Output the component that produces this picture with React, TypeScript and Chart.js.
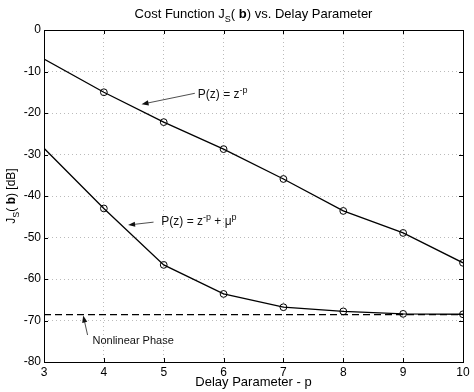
import { useEffect, useRef } from "react";
import { Chart, registerables } from "chart.js";
Chart.register(...registerables);

const delays = [3, 4, 5, 6, 7, 8, 9, 10];
const pureDelayDb = [-7, -15, -22.2, -28.7, -35.9, -43.6, -48.9, -56.1];
const delayPlusMuDb = [-28.5, -43, -56.6, -63.6, -66.8, -67.8, -68.4, -68.5];
const nonlinearPhaseDb = -68.6;
const markerRadii = [0, 3.4, 3.4, 3.4, 3.4, 3.4, 3.4, 3.4];
const xTickValues = [3, 4, 5, 6, 7, 8, 9, 10];
const yTickValues = [0, -10, -20, -30, -40, -50, -60, -70, -80];

const FAM = "'Liberation Sans', Arial, Helvetica, sans-serif";

type Seg = { t: string; b?: boolean; sub?: boolean; sup?: boolean };

const titleSegs: Seg[] = [
  { t: "Cost Function J" },
  { t: "S", sub: true },
  { t: "( " },
  { t: "b", b: true },
  { t: ") vs. Delay Parameter" },
];
const yLabelSegs: Seg[] = [
  { t: "J" },
  { t: "S", sub: true },
  { t: "( " },
  { t: "b", b: true },
  { t: ") [dB]" },
];
const xLabelSegs: Seg[] = [{ t: "Delay Parameter - p" }];
const ann1Segs: Seg[] = [{ t: "P(z) = z" }, { t: "-p", sup: true }];
const ann2Segs: Seg[] = [
  { t: "P(z) = z" },
  { t: "-p", sup: true },
  { t: " + \u03bc" },
  { t: "p", sup: true },
];
const ann3Segs: Seg[] = [{ t: "Nonlinear Phase" }];

// annotation anchors (data coordinates)
const annotations = [
  { segs: ann1Segs, x: 5.57, y: -16.3, size: 12, tail: [5.52, -15.25], head: [4.63, -17.9] },
  { segs: ann2Segs, x: 4.96, y: -47.0, size: 12, tail: [4.83, -46.3], head: [4.405, -47.0] },
  { segs: ann3Segs, x: 3.81, y: -75.7, size: 11, tail: [3.728, -73.5], head: [3.655, -68.8] },
];

function segFont(s: Seg, size: number) {
  const sz = s.sub || s.sup ? Math.round(size * 0.72) : size;
  return `${s.b ? "bold " : ""}${sz}px ${FAM}`;
}

function drawRich(
  ctx: CanvasRenderingContext2D,
  segs: Seg[],
  x: number,
  y: number,
  size: number,
  align: "left" | "center"
) {
  ctx.save();
  ctx.textBaseline = "alphabetic";
  ctx.textAlign = "left";
  let total = 0;
  const widths = segs.map((s) => {
    ctx.font = segFont(s, size);
    const w = ctx.measureText(s.t).width;
    total += w;
    return w;
  });
  let cx = align === "center" ? x - total / 2 : x;
  segs.forEach((s, i) => {
    ctx.font = segFont(s, size);
    let dy = 0;
    if (s.sub) dy = size * 0.3;
    if (s.sup) dy = -size * 0.4;
    ctx.fillText(s.t, cx, y + dy);
    cx += widths[i];
  });
  ctx.restore();
}

function drawArrow(ctx: CanvasRenderingContext2D, x1: number, y1: number, x2: number, y2: number) {
  const ang = Math.atan2(y2 - y1, x2 - x1);
  const len = 7;
  const wid = 2.6;
  ctx.save();
  ctx.strokeStyle = "#222";
  ctx.fillStyle = "#111";
  ctx.lineWidth = 0.8;
  ctx.beginPath();
  ctx.moveTo(x1, y1);
  ctx.lineTo(x2 - Math.cos(ang) * len * 0.8, y2 - Math.sin(ang) * len * 0.8);
  ctx.stroke();
  ctx.beginPath();
  ctx.moveTo(x2, y2);
  ctx.lineTo(
    x2 - Math.cos(ang) * len - Math.sin(ang) * wid,
    y2 - Math.sin(ang) * len + Math.cos(ang) * wid
  );
  ctx.lineTo(
    x2 - Math.cos(ang) * len + Math.sin(ang) * wid,
    y2 - Math.sin(ang) * len - Math.cos(ang) * wid
  );
  ctx.closePath();
  ctx.fill();
  ctx.restore();
}

const decorPlugin = {
  id: "decor",
  afterDraw(chart: any) {
    const ctx: CanvasRenderingContext2D = chart.ctx;
    const { left, right, top, bottom } = chart.chartArea;
    const xs = chart.scales.x;
    const ys = chart.scales.y;
    ctx.save();
    // box
    ctx.strokeStyle = "#000";
    ctx.lineWidth = 1;
    ctx.strokeRect(Math.round(left) + 0.5, Math.round(top) + 0.5, Math.round(right - left), Math.round(bottom - top));
    // inward ticks
    ctx.beginPath();
    xTickValues.forEach((v) => {
      const px = Math.round(xs.getPixelForValue(v)) + 0.5;
      ctx.moveTo(px, bottom);
      ctx.lineTo(px, bottom - 4);
      ctx.moveTo(px, top);
      ctx.lineTo(px, top + 4);
    });
    yTickValues.forEach((v) => {
      const py = Math.round(ys.getPixelForValue(v)) + 0.5;
      ctx.moveTo(left, py);
      ctx.lineTo(left + 4, py);
      ctx.moveTo(right, py);
      ctx.lineTo(right - 4, py);
    });
    ctx.stroke();

    ctx.fillStyle = "#000";
    drawRich(ctx, titleSegs, (left + right) / 2, 18, 13, "center");
    drawRich(ctx, xLabelSegs, (left + right) / 2, 386, 13, "center");
    ctx.save();
    ctx.translate(15, (top + bottom) / 2);
    ctx.rotate(-Math.PI / 2);
    drawRich(ctx, yLabelSegs, 0, 0, 12, "center");
    ctx.restore();

    annotations.forEach((a) => {
      ctx.fillStyle = "#111";
      drawRich(ctx, a.segs, xs.getPixelForValue(a.x), ys.getPixelForValue(a.y), a.size, "left");
      drawArrow(
        ctx,
        xs.getPixelForValue(a.tail[0]),
        ys.getPixelForValue(a.tail[1]),
        xs.getPixelForValue(a.head[0]),
        ys.getPixelForValue(a.head[1])
      );
    });
    ctx.restore();
  },
};

export default function App() {
  const ref = useRef<HTMLCanvasElement>(null);
  useEffect(() => {
    document.body.style.margin = "0";
    const canvas = ref.current!;
    const chart = new Chart(canvas, {
      type: "line",
      data: {
        datasets: [
          {
            data: delays.map((d, i) => ({ x: d, y: pureDelayDb[i] })),
            borderColor: "#000",
            borderWidth: 1.3,
            pointRadius: markerRadii,
            pointBorderColor: "#000",
            pointBackgroundColor: "rgba(0,0,0,0)",
            pointBorderWidth: 1,
            fill: false,
          },
          {
            data: delays.map((d, i) => ({ x: d, y: delayPlusMuDb[i] })),
            borderColor: "#000",
            borderWidth: 1.3,
            pointRadius: markerRadii,
            pointBorderColor: "#000",
            pointBackgroundColor: "rgba(0,0,0,0)",
            pointBorderWidth: 1,
            fill: false,
          },
          {
            data: [
              { x: delays[0], y: nonlinearPhaseDb },
              { x: delays[delays.length - 1], y: nonlinearPhaseDb },
            ],
            borderColor: "#000",
            borderWidth: 1.3,
            borderDash: [7, 4],
            pointRadius: 0,
            fill: false,
          },
        ],
      },
      options: {
        animation: false,
        responsive: false,
        maintainAspectRatio: false,
        layout: { padding: { top: 30, right: 11, left: 0, bottom: 0 } },
        plugins: { legend: { display: false }, tooltip: { enabled: false }, title: { display: false } },
        scales: {
          x: {
            type: "linear",
            min: 3,
            max: 10,
            afterFit: (s: any) => {
              s.height = 30;
            },
            afterBuildTicks: (s: any) => {
              s.ticks = xTickValues.map((v) => ({ value: v }));
            },
            ticks: { color: "#000", font: { family: FAM, size: 12 }, padding: 3 },
            grid: { color: "#bbb", lineWidth: 1, drawTicks: false },
            border: { display: false, dash: [1, 3] },
          },
          y: {
            type: "linear",
            min: -80,
            max: 0,
            afterFit: (s: any) => {
              s.width = 44;
            },
            afterBuildTicks: (s: any) => {
              s.ticks = yTickValues.map((v) => ({ value: v }));
            },
            ticks: { color: "#000", font: { family: FAM, size: 12 }, padding: 3 },
            grid: { color: "#bbb", lineWidth: 1, drawTicks: false },
            border: { display: false, dash: [1, 3] },
          },
        },
      },
      plugins: [decorPlugin],
    } as any);
    return () => chart.destroy();
  }, []);
  return <canvas ref={ref} width={474} height={392} style={{ display: "block", width: 474, height: 392 }} />;
}
